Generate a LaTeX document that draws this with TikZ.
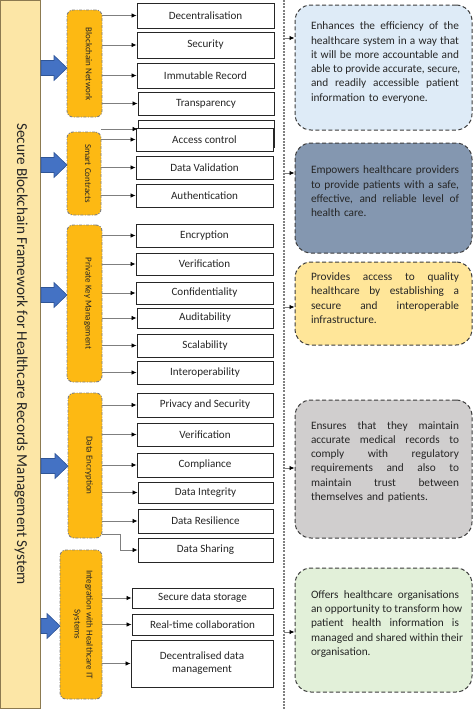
\documentclass[tikz,border=0pt]{standalone}
\usepackage{fontspec}
\setmainfont{Carlito}
\usetikzlibrary{arrows.meta,calc}
\definecolor{barfill}{HTML}{FCE6A6}
\definecolor{bardraw}{HTML}{8C7A50}
\definecolor{orng}{HTML}{FDB913}
\definecolor{arrblue}{HTML}{4472C4}
\definecolor{arrblued}{HTML}{2F5597}
\definecolor{txt}{HTML}{262626}
\definecolor{linegray}{HTML}{7F7F7F}
\definecolor{dlblue}{HTML}{DEEBF7}
\definecolor{dslate}{HTML}{8497B0}
\definecolor{dyellow}{HTML}{FFE699}
\definecolor{dgray}{HTML}{D0CECE}
\definecolor{dgreen}{HTML}{E2F0D9}
\newcommand\itembox[6]{\node[item, minimum width={(#4-#2)*1pt}, minimum height={(#5-#3)*1pt}] (#1) at ({(#2+#4)/2},{(#3+#5)/2}) {#6};}
\newcommand\grpbox[5]{\node[grp, minimum width={(#4-#2)*1pt}, minimum height={(#5-#3)*1pt}] (#1) at ({(#2+#4)/2},{(#3+#5)/2}) {};}
\newcommand\descbox[6]{\node[desc, fill=#6, minimum width={(#4-#2)*1pt}, minimum height={(#5-#3)*1pt}] (#1) at ({(#2+#4)/2},{(#3+#5)/2}) {};}
\newcommand\jline[1]{\leavevmode\hbox to 148pt{\spaceskip=0.226em plus 1fil\relax #1}\\}
\newcommand\bigarr[2]{\filldraw[bluearr] (41,{#1-7.5}) -- ({#2-13},{#1-7.5}) -- ({#2-13},{#1-12.5}) -- (#2,#1) -- ({#2-13},{#1+12.5}) -- ({#2-13},{#1+7.5}) -- (41,{#1+7.5}) -- cycle;}
\begin{document}
\begin{tikzpicture}[x=1pt,y=-1pt,
  item/.style={draw=txt, line width=0.9pt, fill=white, inner sep=0pt, font=\fontsize{11.1}{13}\selectfont, text=txt, align=center},
  grp/.style={draw=linegray, line width=0.9pt, dash pattern=on 3pt off 1.5pt on 1pt off 1.5pt, fill=orng, rounded corners=6pt, inner sep=0pt},
  grptext/.style={rotate=-90, font=\fontsize{9}{12}\selectfont, text=txt, align=center, inner sep=0pt},
  desc/.style={draw=txt!90, line width=1pt, dash pattern=on 4pt off 2.5pt, rounded corners=16pt, inner sep=0pt},
  desctext/.style={text width=148pt, align=left, inner sep=0pt, font=\fontsize{11.3}{14.3}\selectfont, text=txt},
  conn/.style={draw=linegray, line width=0.8pt, -{Latex[length=5pt,width=4.5pt,fill=black,color=black]}},
  bluearr/.style={fill=arrblue, draw=arrblued, line width=0.6pt}]
\useasboundingbox (0,0) rectangle (474,710);

% left bar
\node[draw=bardraw, fill=barfill, line width=0.8pt, minimum width=40pt, minimum height=708pt, inner sep=0pt] (bar) at (20.5,354.5) {};
\node[rotate=-90, font=\fontsize{15.2}{18}\selectfont, text=txt] (title) at (21,354) {Secure Blockchain Framework for Healthcare Records Management System};

% group boxes
\grpbox{b1}{67}{10}{102}{117}
\grpbox{b2}{67}{132}{101}{215}
\grpbox{b3}{67}{225}{102}{382}
\grpbox{b4}{68}{393}{102}{538}
\grpbox{b5}{60}{550}{102}{699}
\node[grptext] (t1) at (89,64) {Blockchain Network};
\node[grptext] (t2) at (88,173.5) {Smart Contracts};
\node[grptext] (t3) at (88,303.5) {Private Key Management};
\node[grptext] (t4) at (89,465.5) {Data Encryption};
\node[grptext] (t5) at (83,624.5) {Integration with Healthcare IT\\Systems};

% blue arrows
\bigarr{68}{67}
\bigarr{165}{67}
\bigarr{295}{67}
\bigarr{466}{68}
\bigarr{626}{60}

% items
\itembox{dec}{137}{3}{274}{28}{Decentralisation}
\itembox{sec}{137}{32}{274}{58}{Security}
\itembox{imm}{137}{63}{274}{88}{Immutable Record}
\itembox{tra}{138}{92}{274}{115}{Transparency}
\itembox{hid}{138}{120}{274}{147}{}
\itembox{acc}{136}{128}{273}{151}{Access control}
\itembox{dva}{136}{156}{273}{179}{Data Validation}
\itembox{aut}{136}{184}{273}{207}{Authentication}
\itembox{enc}{136}{224}{273}{247}{Encryption}
\itembox{verA}{136}{253}{273}{275}{Verification}
\itembox{con}{136}{282}{273}{304}{Confidentiality}
\itembox{aud}{137}{308}{273}{328}{Auditability}
\itembox{sca}{137}{334}{273}{357}{Scalability}
\itembox{int}{137}{361}{273}{384}{Interoperability}
\itembox{pri}{137}{393}{273}{417}{Privacy and Security}
\itembox{verB}{137}{423}{273}{446}{Verification}
\itembox{com}{137}{453}{273}{477}{Compliance}
\itembox{din}{138}{482}{273}{503}{Data Integrity}
\itembox{dre}{138}{509}{273}{533}{Data Resilience}
\itembox{dsh}{138}{538}{273}{562}{Data Sharing}
\itembox{sds}{132}{588}{273}{608}{Secure data storage}
\itembox{rtc}{132}{614}{273}{635}{Real-time collaboration}
\itembox{ddm}{131}{640}{273}{687}{\raisebox{5pt}{\parbox{130pt}{\centering Decentralised data\\management}}}

% connectors
\foreach \g/\i in {b1/dec,b1/sec,b1/imm,b1/tra,b2/acc,b2/dva,b2/aut,b3/enc,b3/verA,b3/con,b3/aud,b3/sca,b3/int,b4/pri,b4/verB,b4/com,b4/din,b4/dre,b5/sds,b5/rtc,b5/ddm}
  \draw[conn] (\g.east |- \i.west) -- (\i.west);
\coordinate (hidw) at ([yshift=4.5pt]hid.west);
\draw[conn] (b2.east |- hidw) -- (hidw);
\coordinate (elb) at (120,534);
\draw[conn] (b4.east |- elb) -- (elb) |- (dsh.west);

% dotted line
\coordinate (dtop) at (284,0);
\coordinate (dbot) at (284,710);
\draw[linegray, line width=1.3pt, dash pattern=on 2pt off 1.2pt] (dtop) -- (dbot);

% description boxes
\descbox{e1}{295}{5}{472}{130}{dlblue}
\descbox{e2}{295}{143}{472}{253}{dslate}
\descbox{e3}{295}{262}{472}{345}{dyellow}
\descbox{e4}{295}{400}{472}{538}{dgray}
\descbox{e5}{295}{568}{472}{692}{dgreen}

\foreach \n/\y in {1/38,2/173,3/307,4/468,5/632}{
  \coordinate (p\n) at (284,\y);
  \draw[conn] (p\n) -- (e\n.west |- p\n);
}

\node[desctext] (x1) at (385,62.5) {\jline{Enhances the efficiency of the}\jline{healthcare system in a way that}\jline{it will be more accountable and}\jline{able to provide accurate, secure,}\jline{and readily accessible patient}information to everyone.};
\node[desctext] (x2) at (385,191.5) {\jline{Empowers healthcare providers}\jline{to provide patients with a safe,}\jline{effective, and reliable level of}health care.};
\node[desctext] (x3) at (385,298) {\jline{Provides access to quality}\jline{healthcare by establishing a}\jline{secure and interoperable}infrastructure.};
\node[desctext] (x4) at (385,461.8) {\jline{Ensures that they maintain}\jline{accurate medical records to}\jline{comply with regulatory}\jline{requirements and also to}\jline{maintain trust between}themselves and patients.};
\node[desctext] (x5) at (385,623.8) {\jline{Offers healthcare organisations}\jline{an opportunity to transform how}\jline{patient health information is}\jline{managed and shared within their}organisation.};
\end{tikzpicture}
\end{document}
